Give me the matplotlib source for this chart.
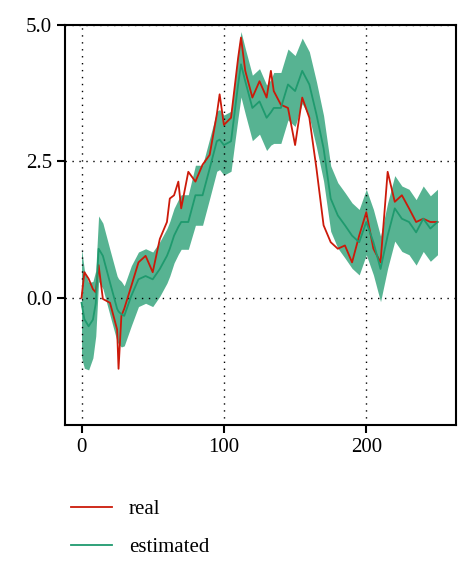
import matplotlib
matplotlib.use("Agg")
import matplotlib.pyplot as plt
import numpy as np

t = [0,2,5,8,10,12,15,20,25,26,28,30,35,40,45,50,55,60,62,65,68,70,75,80,85,90,95,97,100,105,110,112,115,120,125,130,133,135,140,145,150,155,160,165,170,175,180,185,190,195,200,205,210,215,220,225,230,235,240,245,250]
real = [0,0.47,0.35,0.16,0.1,0.6,-0.02,-0.09,-0.58,-1.3,-0.33,-0.2,0.22,0.65,0.77,0.47,1.08,1.39,1.82,1.88,2.13,1.64,2.31,2.13,2.44,2.62,3.36,3.73,3.17,3.3,4.4,4.77,4.16,3.67,3.97,3.67,4.16,3.79,3.54,3.48,2.8,3.67,3.3,2.37,1.33,1.02,0.9,0.96,0.65,1.14,1.57,0.9,0.65,2.31,1.76,1.88,1.64,1.39,1.45,1.39,1.39]
est = [-0.09,-0.39,-0.52,-0.4,-0.1,0.9,0.77,0.28,-0.2,-0.25,-0.3,-0.33,0.04,0.34,0.4,0.34,0.53,0.77,0.9,1.14,1.3,1.39,1.39,1.88,1.88,2.37,2.87,2.9,2.8,2.87,3.91,4.28,3.97,3.48,3.6,3.3,3.4,3.48,3.48,3.91,3.79,4.16,3.91,3.36,2.74,1.82,1.51,1.33,1.14,1.02,1.39,1.02,0.53,1.14,1.64,1.45,1.39,1.2,1.45,1.27,1.39]
spread = [1.0,0.9,0.8,0.7,0.6,0.6,0.6,0.6,0.6,0.6,0.6,0.55,0.55,0.5,0.5,0.5,0.5,0.5,0.5,0.5,0.5,0.5,0.5,0.55,0.55,0.55,0.55,0.55,0.55,0.55,0.6,0.6,0.6,0.6,0.6,0.6,0.6,0.65,0.65,0.65,0.65,0.6,0.6,0.6,0.6,0.6,0.6,0.6,0.6,0.6,0.6,0.6,0.6,0.6,0.6,0.6,0.6,0.6,0.6,0.6,0.6]

plt.rcParams['font.family'] = ['Liberation Serif']
fig = plt.figure(figsize=(4.74, 5.66), dpi=100)
ax = fig.add_axes([65/474, 1-425/566, (456-65)/474, 400/566])
green = '#1f9a6e'
lo = np.array(est) - np.array(spread)
hi = np.array(est) + np.array(spread)
ax.fill_between(t, lo, hi, color=green, alpha=0.75, lw=0)
ax.plot(t, real, color='#cc1a0a', lw=1.3, label='real')
ax.plot(t, est, color=green, lw=1.3, label='estimated')
ax.set_xlim(-11.6, 263)
ax.set_ylim(-2.33, 5.0)
ax.set_xticks([0, 100, 200])
ax.set_yticks([0.0, 2.5, 5.0])
ax.set_yticklabels(['0.0', '2.5', '5.0'])
ax.grid(True, linestyle=(0, (1, 4)), color='black', lw=1)
ax.tick_params(labelsize=15, direction='out', length=6, width=1.5)
for s in ax.spines.values():
    s.set_linewidth(1.5)
fig.legend(loc='lower left', bbox_to_anchor=(52/474, -10/566), frameon=False, fontsize=15,
           handlelength=2, labelspacing=0.9)
fig.savefig('out.png', dpi=100)
